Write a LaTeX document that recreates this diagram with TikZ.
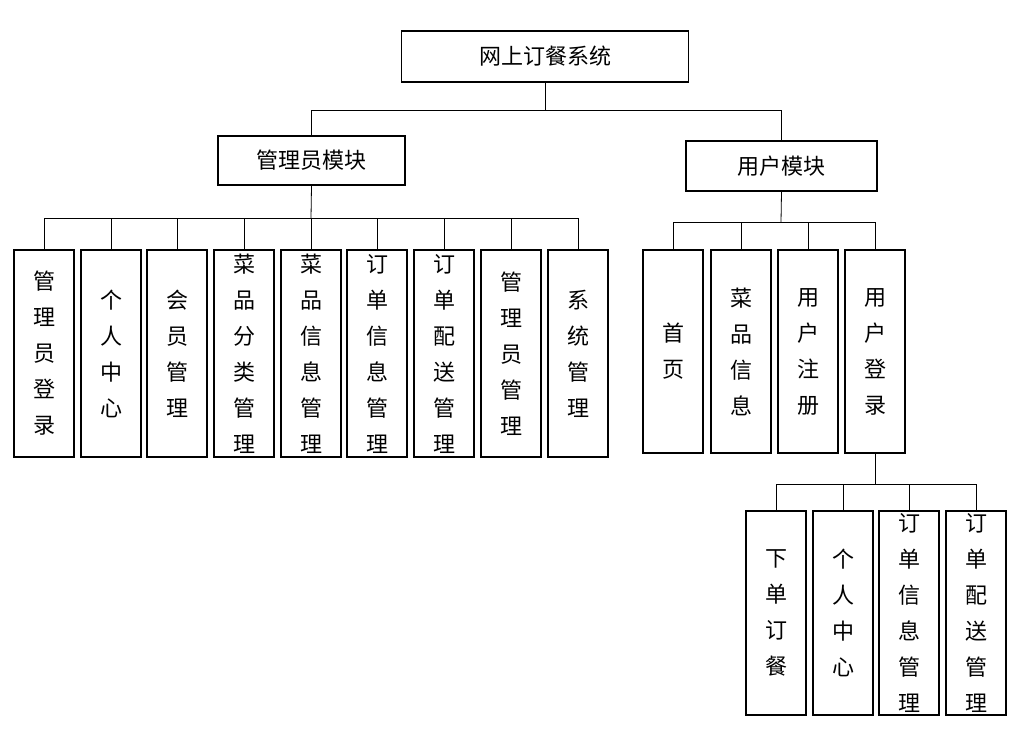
\documentclass[tikz,border=0pt]{standalone}
\usepackage{fontspec}
\newfontfamily\cjk{Noto Sans CJK SC}
\begin{document}
\begin{tikzpicture}[x=1pt,y=-1pt,
 bx/.style={draw,line width=1.6pt,inner sep=0pt},
 ln/.style={line width=0.8pt},
 vt/.style={font=\cjk\fontsize{22}{36}\selectfont,align=center}]
\useasboundingbox (0,0) rectangle (1022,730);
\node[bx,minimum width=287,minimum height=51,font=\cjk\fontsize{22}{26}\selectfont] (root) at (545,56.5) {网上订餐系统};
\node[bx,minimum width=187,minimum height=49,font=\cjk\fontsize{22}{26}\selectfont] (adm) at (311.5,160.5) {管理员模块};
\node[bx,minimum width=191,minimum height=50,font=\cjk\fontsize{22}{26}\selectfont] (usr) at (781.5,166) {用户模块};
\coordinate (rb) at (545,110);
\draw[ln] (root.south) -- (rb) -| (adm.north);
\draw[ln] (rb) -| (usr.north);
% admin children
\foreach \n/\x/\t in {a1/44/管\\理\\员\\登\\录, a2/111/个\\人\\中\\心, a3/177/会\\员\\管\\理, a4/244/菜\\品\\分\\类\\管\\理, a5/311/菜\\品\\信\\息\\管\\理, a6/377/订\\单\\信\\息\\管\\理, a7/444/订\\单\\配\\送\\管\\理, a8/511/管\\理\\员\\管\\理, a9/578/系\\统\\管\\理}{
 \node[bx,minimum width=60,minimum height=207] (\n) at (\x,353.5) {};
 \node[vt] at (\n.center) {\t};
 \draw[ln] (\n.north) -- (\x,218);
}
\draw[ln] (a1.north |- 0,218) -- (a9.north |- 0,218);
\draw[ln] (adm.south) -- (311,218);
% user children
\foreach \n/\x/\t in {u1/673/首\\页, u2/741/菜\\品\\信\\息, u3/808/用\\户\\注\\册, u4/875/用\\户\\登\\录}{
 \node[bx,minimum width=60,minimum height=203] (\n) at (\x,351.5) {};
 \node[vt] at (\n.center) {\t};
 \draw[ln] (\n.north) -- (\x,222);
}
\draw[ln] (u1.north |- 0,222) -- (u4.north |- 0,222);
\draw[ln] (usr.south) -- (781,222);
% login children
\foreach \n/\x/\t in {l1/776/下\\单\\订\\餐, l2/843/个\\人\\中\\心, l3/909/订\\单\\信\\息\\管\\理, l4/976/订\\单\\配\\送\\管\\理}{
 \node[bx,minimum width=60,minimum height=204] (\n) at (\x,613) {};
 \node[vt] at (\n.center) {\t};
 \draw[ln] (\n.north) -- (\x,484);
}
\draw[ln] (l1.north |- 0,484) -- (l4.north |- 0,484);
\draw[ln] (u4.south) -- (875,484);
\end{tikzpicture}
\end{document}
